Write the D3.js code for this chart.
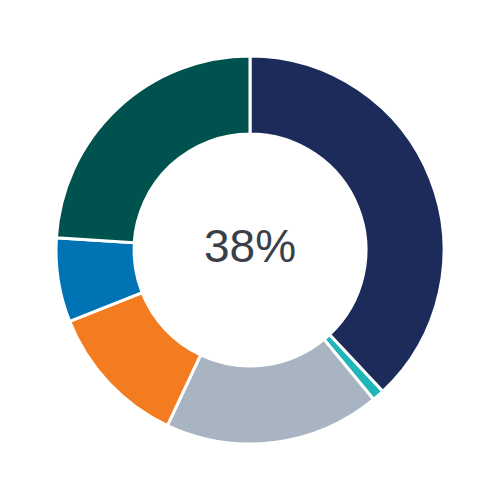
<!DOCTYPE html>
<html lang="en">
<head>
  <meta charset="UTF-8">
  <title>Donut</title>
  <script src="https://d3js.org/d3.v7.min.js"></script>
  <style>
    body { margin: 0; background: #fff; }
    .slice { stroke: #fff; stroke-width: 3px; }
  </style>
</head>
<body>
  <div id="chart"></div>
  <script>
    // Slice shares, clockwise from 12 o'clock
    const categories = ["A", "B", "C", "D", "E", "F"];
    const values = [38, 1, 18, 12, 7, 24];
    const colors = ["#1c2b5a", "#20b5b8", "#a9b4c3", "#f47c20", "#0073b4", "#00524f"];
    const centerLabel = "38%";

    const width = 500, height = 500;
    const outerR = 194, innerR = 116;

    const svg = d3.select("#chart").append("svg")
      .attr("width", width)
      .attr("height", height);

    const g = svg.append("g").attr("transform", `translate(${width / 2},${height / 2})`);

    const pie = d3.pie().sort(null).value(d => d.value);
    const arc = d3.arc().innerRadius(innerR).outerRadius(outerR);
    const color = d3.scaleOrdinal().domain(categories).range(colors);

    const data = categories.map((c, i) => ({ name: c, value: values[i] }));

    g.selectAll(".slice")
      .data(pie(data))
      .enter()
      .append("path")
      .attr("class", "slice")
      .attr("d", arc)
      .attr("fill", d => color(d.data.name));

    g.append("text")
      .attr("text-anchor", "middle")
      .attr("y", 12)
      .attr("font-family", "Liberation Sans, Arial, sans-serif")
      .attr("font-size", 46)
      .attr("fill", "#3b4048")
      .text(centerLabel);
  </script>
</body>
</html>
